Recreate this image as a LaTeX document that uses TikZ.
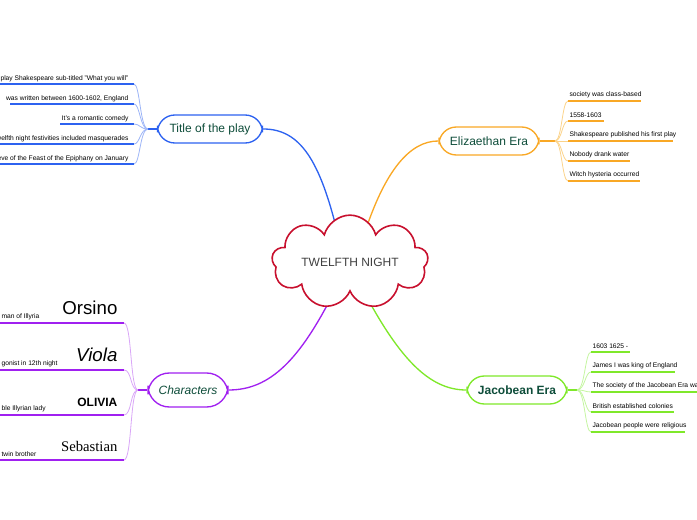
\documentclass[tikz,border=0pt]{standalone}
\usepackage{fontspec}
\setmainfont{Liberation Sans}
\usetikzlibrary{shapes.symbols}
\definecolor{bl}{HTML}{2D62F0}
\definecolor{bll}{HTML}{9DB5F7}
\definecolor{orr}{HTML}{F9A825}
\definecolor{orl}{HTML}{FBD38A}
\definecolor{gr}{HTML}{7FE82A}
\definecolor{grl}{HTML}{C4F5A0}
\definecolor{pu}{HTML}{A020F0}
\definecolor{pul}{HTML}{D9A6F7}
\definecolor{rd}{HTML}{C8102E}
\definecolor{tx}{HTML}{0E4D3A}
\begin{document}
\begin{tikzpicture}[x=0.75pt,y=-0.75pt,
 main/.style={draw=#1,line width=1pt,rounded corners=13pt,fill=white,minimum height=28*0.75pt,text=tx,font=\small},
 it/.style={font=\fontsize{5}{6}\selectfont,inner sep=1pt},
 ul/.style={line width=1.2pt,draw=#1},
 br/.style={line width=0.6pt,draw=#1}]
\useasboundingbox (0,0) rectangle (697,520);
% main connectors
\coordinate (c1) at (338,235); \coordinate (c2) at (364,235);
\coordinate (c3) at (363,290); \coordinate (c4) at (335,290);
\node[main=bl,minimum width=105*0.75pt] (t) at (210,129) {Title of the play};
\node[main=orr,minimum width=100*0.75pt] (e) at (489,141) {Elizaethan Era};
\node[main=gr,minimum width=100*0.75pt] (j) at (517,390) {\bfseries Jacobean Era};
\node[main=pu,minimum width=80*0.75pt,minimum height=34*0.75pt,rounded corners=16pt] (ch) at (188,390) {\itshape Characters};
\draw[bl,line width=1pt] (c1) .. controls (320,160) and (300,129) .. (t.east);
\draw[orr,line width=1pt] (c2) .. controls (385,170) and (410,141) .. (e.west);
\draw[gr,line width=1pt] (c3) .. controls (400,360) and (430,390) .. (j.west);
\draw[pu,line width=1pt] (c4) .. controls (300,360) and (270,390) .. (ch.east);
\node[cloud,cloud puffs=9,aspect=2.6,draw=rd,line width=1.2pt,fill=white,minimum width=155*0.75pt,minimum height=62*0.75pt,font=\small,text=black!75] (n) at (350,262) {TWELFTH NIGHT};
% Title items
\coordinate (tb) at (148,129);
\draw[bl,line width=1pt] (t.west) -- (tb);
\foreach \y/\xs/\txt in {84/0/{ely play Shakespeare sub-titled "What you will"},104/10/{was written between 1600-1602, England},124/60/{It's a romantic comedy},144/0/{Twelfth night festivities included masquerades},164/0/{the eve of the Feast of the Epiphany on January}}{
 \draw[br=bll] (tb) .. controls (140,129) and (140,\y) .. (134,\y);
 \draw[ul=bl] (134,\y) -- (\xs,\y);
 \node[it,anchor=south east] at (130,\y-1) {\txt};
}
% Elizabethan items
\coordinate (eb) at (555,141);
\draw[orr,line width=1pt] (e.east) -- (eb);
\foreach \y/\xe/\txt in {101/641/{society was class-based},121/604/{1558-1603},141/673/{Shakespeare published his first play},161/630/{Nobody drank water},181/640/{Witch hysteria occurred}}{
 \draw[br=orl] (eb) .. controls (562,141) and (562,\y) .. (568,\y);
 \draw[ul=orr] (568,\y) -- (\xe,\y);
 \node[it,anchor=south west] at (568,\y-2) {\txt};
}
% Jacobean items
\coordinate (jb) at (577,390);
\draw[gr,line width=1pt] (j.east) -- (jb);
\foreach \y/\xe/\txt in {352/630/{1603 1625 -},372/675/{James I was king of England},392/697/{The society of the Jacobean Era was v},412/674/{British established colonies},432/685/{Jacobean people were religious}}{
 \draw[br=grl] (jb) .. controls (585,390) and (585,\y) .. (591,\y);
 \draw[ul=gr] (591,\y) -- (\xe,\y);
 \node[it,anchor=south west] at (591,\y-2) {\txt};
}
% Characters items
\coordinate (cb) at (138,390);
\draw[pu,line width=1pt] (ch.west) -- (cb);
\foreach \y/\txt/\nm/\nmtxt in {323/{man of Illyria}/o/{\fontsize{14}{14}\selectfont\scshape Orsino},370/{gonist in 12th night}/v/{\fontsize{14}{14}\selectfont\itshape Viola},415/{ble Illyrian lady}/l/{\fontsize{9}{9}\selectfont\bfseries OLIVIA},460/{twin brother}/s/{\fontsize{11}{11}\selectfont\fontspec{Liberation Serif}Sebastian}}{
 \draw[br=pul] (cb) .. controls (130,390) and (132,\y) .. (124,\y);
 \draw[ul=pu] (124,\y) -- (0,\y);
 \node[it,anchor=south west] at (0,\y-2) {\txt};
 \node[anchor=south east,inner sep=1pt] (\nm) at (119,\y-7) {\nmtxt};
}
\end{tikzpicture}
\end{document}
